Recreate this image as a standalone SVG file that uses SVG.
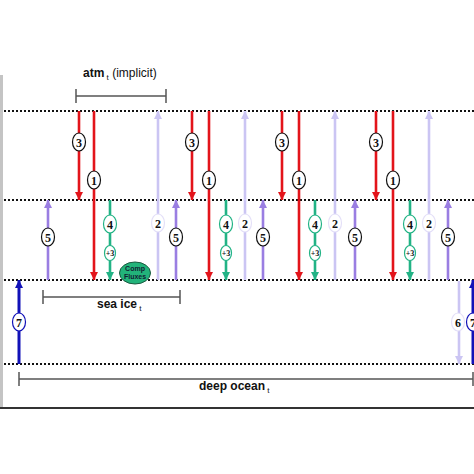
<svg xmlns="http://www.w3.org/2000/svg" width="474" height="474" viewBox="0 0 474 474">
<style>
.dot{stroke:#111;stroke-width:2.2;stroke-dasharray:2 2;fill:none}
.br{stroke:#555;stroke-width:1.5;fill:none}
.red{stroke:#e3141b;stroke-width:2.6;marker-end:url(#mRed)}
.lav{stroke:#cbc5f3;stroke-width:2.6;marker-end:url(#mLav)}
.pur{stroke:#9a7ee2;stroke-width:2.6;marker-end:url(#mPur)}
.grn{stroke:#22b385;stroke-width:2.6;marker-end:url(#mGrn)}
.blu{stroke:#1212b8;stroke-width:3;marker-end:url(#mBlu)}
.lb ellipse{fill:#fff;stroke:#111;stroke-width:1.2}
.lb.g ellipse{stroke:#22b385}
.lb.l ellipse{stroke:#e4e0f8}
.lb.b ellipse{stroke:#1212b8}
.lb text{font-family:"Liberation Serif",serif;font-weight:bold;font-size:12px;text-anchor:middle;fill:#111}
.lb text.s{font-size:8px}
.t{font-family:"Liberation Sans",sans-serif;font-size:12px;fill:#111}
</style>
<defs>
<marker id="mRed" viewBox="0 0 10 10" refX="10" refY="5" markerWidth="9" markerHeight="8" markerUnits="userSpaceOnUse" orient="auto"><path d="M0,0L10,5L0,10z" fill="#e3141b"/></marker>
<marker id="mLav" viewBox="0 0 10 10" refX="10" refY="5" markerWidth="9" markerHeight="8" markerUnits="userSpaceOnUse" orient="auto"><path d="M0,0L10,5L0,10z" fill="#cbc5f3"/></marker>
<marker id="mPur" viewBox="0 0 10 10" refX="10" refY="5" markerWidth="9" markerHeight="8" markerUnits="userSpaceOnUse" orient="auto"><path d="M0,0L10,5L0,10z" fill="#9a7ee2"/></marker>
<marker id="mGrn" viewBox="0 0 10 10" refX="10" refY="5" markerWidth="9" markerHeight="8" markerUnits="userSpaceOnUse" orient="auto"><path d="M0,0L10,5L0,10z" fill="#22b385"/></marker>
<marker id="mBlu" viewBox="0 0 10 10" refX="10" refY="5" markerWidth="9" markerHeight="8" markerUnits="userSpaceOnUse" orient="auto"><path d="M0,0L10,5L0,10z" fill="#1212b8"/></marker>
</defs>
<rect width="474" height="474" fill="#fff"/>
<rect x="0" y="75" width="3" height="333" fill="#c4c4c4"/>
<line x1="0" y1="408" x2="474" y2="408" stroke="#333" stroke-width="2"/>

<g id="layers">
<line class="dot" x1="4" y1="111" x2="474" y2="111"/>
<line class="dot" x1="4" y1="200" x2="474" y2="200"/>
<line class="dot" x1="4" y1="280" x2="474" y2="280"/>
<line class="dot" x1="4" y1="364" x2="474" y2="364"/>
</g>

<g id="atm">
<path class="br" d="M76,89V103M76,96H166M166,89V103"/>
<text class="t" x="83" y="77"><tspan font-weight="bold">atm</tspan><tspan font-size="8" dy="3"> t</tspan><tspan dy="-3"> (implicit)</tspan></text>
</g>
<g id="seaice">
<path class="br" d="M43,290V304M43,297H180M180,290V304"/>
<text class="t" x="97" y="308" font-size="11.5"><tspan font-weight="bold">sea ice</tspan><tspan font-size="8" dy="3"> t</tspan></text>
</g>
<g id="deepocean">
<path class="br" d="M19,372V386M19,379H473M473,372V386"/>
<text class="t" x="199" y="390" font-size="11.5"><tspan font-weight="bold">deep ocean</tspan><tspan font-size="8" dy="3"> t</tspan></text>
</g>

<g id="connectors">
<!-- group 1 -->
<line class="pur" x1="48" y1="280" x2="48" y2="200"/>
<line class="red" x1="79" y1="111" x2="79" y2="200"/>
<line class="red" x1="94" y1="111" x2="94" y2="280"/>
<line class="grn" x1="110" y1="200" x2="110" y2="280"/>
<line class="lav" x1="158" y1="280" x2="158" y2="111"/>
<!-- group 2 -->
<line class="pur" x1="176" y1="280" x2="176" y2="200"/>
<line class="red" x1="192" y1="111" x2="192" y2="200"/>
<line class="red" x1="209" y1="111" x2="209" y2="280"/>
<line class="grn" x1="226" y1="200" x2="226" y2="280"/>
<line class="lav" x1="245" y1="280" x2="245" y2="111"/>
<!-- group 3 -->
<line class="pur" x1="263" y1="280" x2="263" y2="200"/>
<line class="red" x1="282" y1="111" x2="282" y2="200"/>
<line class="red" x1="299" y1="111" x2="299" y2="280"/>
<line class="grn" x1="315" y1="200" x2="315" y2="280"/>
<line class="lav" x1="335" y1="280" x2="335" y2="111"/>
<!-- group 4 -->
<line class="pur" x1="355" y1="280" x2="355" y2="200"/>
<line class="red" x1="376" y1="111" x2="376" y2="200"/>
<line class="red" x1="393" y1="111" x2="393" y2="280"/>
<line class="grn" x1="410" y1="200" x2="410" y2="280"/>
<line class="lav" x1="429" y1="280" x2="429" y2="111"/>
<line class="pur" x1="448" y1="280" x2="448" y2="200"/>
<!-- ocean -->
<line class="blu" x1="19" y1="364" x2="19" y2="280"/>
<line class="lav" x1="459" y1="281" x2="459" y2="364"/>
<line class="blu" x1="473" y1="364" x2="473" y2="280"/>
</g>

<g id="labels">
<g class="lb"><ellipse cx="79" cy="142" rx="6.5" ry="9"/><text x="79" y="146.5">3</text></g>
<g class="lb"><ellipse cx="94" cy="180" rx="6.5" ry="9"/><text x="94" y="184.5">1</text></g>
<g class="lb l"><ellipse cx="158" cy="223" rx="6.5" ry="9"/><text x="158" y="227.5">2</text></g>
<g class="lb"><ellipse cx="48" cy="237" rx="6.5" ry="9"/><text x="48" y="241.5">5</text></g>
<g class="lb g"><ellipse cx="110" cy="224" rx="6.5" ry="9"/><text x="110" y="228.5">4</text></g>
<g class="lb g"><ellipse cx="110" cy="253" rx="5.5" ry="7.5"/><text class="s" x="110" y="256">+3</text></g>

<g class="lb"><ellipse cx="192" cy="142" rx="6.5" ry="9"/><text x="192" y="146.5">3</text></g>
<g class="lb"><ellipse cx="209" cy="180" rx="6.5" ry="9"/><text x="209" y="184.5">1</text></g>
<g class="lb l"><ellipse cx="245" cy="223" rx="6.5" ry="9"/><text x="245" y="227.5">2</text></g>
<g class="lb"><ellipse cx="176" cy="237" rx="6.5" ry="9"/><text x="176" y="241.5">5</text></g>
<g class="lb g"><ellipse cx="226" cy="224" rx="6.5" ry="9"/><text x="226" y="228.5">4</text></g>
<g class="lb g"><ellipse cx="226" cy="253" rx="5.5" ry="7.5"/><text class="s" x="226" y="256">+3</text></g>

<g class="lb"><ellipse cx="282" cy="142" rx="6.5" ry="9"/><text x="282" y="146.5">3</text></g>
<g class="lb"><ellipse cx="299" cy="180" rx="6.5" ry="9"/><text x="299" y="184.5">1</text></g>
<g class="lb l"><ellipse cx="335" cy="223" rx="6.5" ry="9"/><text x="335" y="227.5">2</text></g>
<g class="lb"><ellipse cx="263" cy="237" rx="6.5" ry="9"/><text x="263" y="241.5">5</text></g>
<g class="lb g"><ellipse cx="315" cy="224" rx="6.5" ry="9"/><text x="315" y="228.5">4</text></g>
<g class="lb g"><ellipse cx="315" cy="253" rx="5.5" ry="7.5"/><text class="s" x="315" y="256">+3</text></g>

<g class="lb"><ellipse cx="376" cy="142" rx="6.5" ry="9"/><text x="376" y="146.5">3</text></g>
<g class="lb"><ellipse cx="393" cy="180" rx="6.5" ry="9"/><text x="393" y="184.5">1</text></g>
<g class="lb l"><ellipse cx="429" cy="223" rx="6.5" ry="9"/><text x="429" y="227.5">2</text></g>
<g class="lb"><ellipse cx="355" cy="237" rx="6.5" ry="9"/><text x="355" y="241.5">5</text></g>
<g class="lb g"><ellipse cx="410" cy="224" rx="6.5" ry="9"/><text x="410" y="228.5">4</text></g>
<g class="lb g"><ellipse cx="410" cy="253" rx="5.5" ry="7.5"/><text class="s" x="410" y="256">+3</text></g>
<g class="lb"><ellipse cx="448" cy="237" rx="6.5" ry="9"/><text x="448" y="241.5">5</text></g>

<g class="lb b"><ellipse cx="19" cy="322" rx="6.5" ry="9"/><text x="19" y="326.5">7</text></g>
<g class="lb l"><ellipse cx="458" cy="322" rx="6.5" ry="9"/><text x="458" y="326.5">6</text></g>
<g class="lb b"><ellipse cx="473" cy="322" rx="6.5" ry="9"/><text x="473" y="326.5">7</text></g>
</g>

<g id="compfluxes">
<ellipse cx="135" cy="273" rx="15.5" ry="11" fill="#22b37a" stroke="#1a5a40" stroke-width="1"/>
<text x="135" y="271" font-family="Liberation Sans,sans-serif" font-size="7" font-weight="bold" text-anchor="middle" fill="#123">Comp</text>
<text x="135" y="279" font-family="Liberation Sans,sans-serif" font-size="7" font-weight="bold" text-anchor="middle" fill="#123">Fluxes</text>
</g>
</svg>
